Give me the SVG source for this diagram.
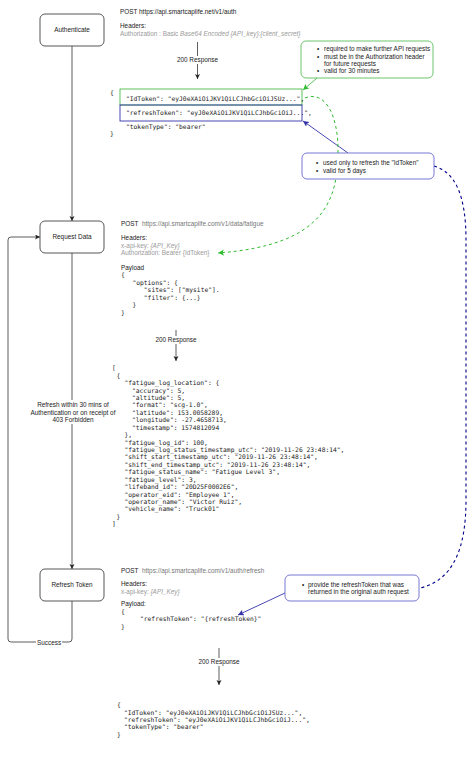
<svg xmlns="http://www.w3.org/2000/svg" width="474" height="757" viewBox="0 0 474 757">
<style>
.t{font-family:"Liberation Sans",Arial,sans-serif;font-size:6.4px;fill:#1a1a1a}
.g{fill:#9a9a9a}
.u{fill:#777}
.i{font-style:italic}
.m{font-family:"DejaVu Sans Mono","Liberation Mono",monospace;font-size:6.3px;fill:#1a1a1a}
.c{text-anchor:middle}
.node{fill:#fff;stroke:#444;stroke-width:0.9}
.ln{fill:none;stroke:#333;stroke-width:0.8}
.bg{fill:#fff}
</style>
<defs>
<marker id="ak" markerUnits="userSpaceOnUse" markerWidth="6" markerHeight="6" refX="5" refY="2.5" orient="auto"><path d="M0,0 L5,2.5 L0,5 L1.2,2.5 z" fill="#222"/></marker>
<marker id="ag" markerUnits="userSpaceOnUse" markerWidth="7" markerHeight="7" refX="6" refY="3" orient="auto"><path d="M0,0 L6,3 L0,6 L1.4,3 z" fill="#2ebd2e"/></marker>
<marker id="ab" markerUnits="userSpaceOnUse" markerWidth="7" markerHeight="7" refX="6" refY="3" orient="auto"><path d="M0,0 L6,3 L0,6 L1.4,3 z" fill="#3333aa"/></marker>
</defs>
<rect width="474" height="757" fill="#fff"/>

<g id="connectors">
<line class="ln" x1="72" y1="46" x2="72" y2="221" marker-end="url(#ak)"/>
<line class="ln" x1="72" y1="253" x2="72" y2="569" marker-end="url(#ak)"/>
<path class="ln" d="M72 601 L72 639 Q72 642 69 642 L11 642 Q8 642 8 639 L8 240 Q8 237 11 237 L40 237" marker-end="url(#ak)"/>
<line class="ln" x1="197.5" y1="42" x2="197.5" y2="79" marker-end="url(#ak)"/>
<line class="ln" x1="176" y1="330" x2="176" y2="361" marker-end="url(#ak)"/>
<line class="ln" x1="219" y1="648" x2="219" y2="685" marker-end="url(#ak)"/>
<line x1="317" y1="78" x2="303" y2="90" stroke="#4cbb4c" stroke-width="0.9" marker-end="url(#ag)"/>
<line x1="348" y1="153" x2="303" y2="121" stroke="#3333aa" stroke-width="0.9" marker-end="url(#ab)"/>
<line x1="285" y1="593" x2="238" y2="615" stroke="#3333aa" stroke-width="0.9" marker-end="url(#ab)"/>
<path d="M305 98 C325 90 338 115 338 150 C338 200 325 245 218 253" fill="none" stroke="#2ebd2e" stroke-width="1" stroke-dasharray="3 3" marker-end="url(#ag)"/>
<path d="M434 166 C455 172 466 195 466 240 L466 500 C466 545 455 580 420 588" fill="none" stroke="#000088" stroke-width="1.1" stroke-dasharray="3 3"/>
<rect class="bg" x="177" y="56" width="41" height="8"/>
<text class="t c" x="197.5" y="62.2">200 Response</text>
<rect class="bg" x="155" y="336" width="42" height="8"/>
<text class="t c" x="176" y="342.2">200 Response</text>
<rect class="bg" x="198" y="658" width="42" height="8"/>
<text class="t c" x="219" y="664.2">200 Response</text>
<rect class="bg" x="37" y="400" width="78" height="24"/>
<text class="t c" x="73" y="407.2">Refresh within 30 mins of</text>
<text class="t c" x="73" y="414.9">Authentication or on receipt of</text>
<text class="t c" x="73" y="422.2">403 Forbidden</text>
<rect class="bg" x="36" y="638" width="26" height="8"/>
<text class="t c" x="49" y="645.2">Success</text>
</g>

<g id="node-authenticate">
<rect class="node" x="40" y="14" width="64" height="32" rx="5"/>
<text class="t c" x="72" y="32.2">Authenticate</text>
</g>
<g id="node-request-data">
<rect class="node" x="40" y="221" width="64" height="32" rx="5"/>
<text class="t c" x="72" y="239.2">Request Data</text>
</g>
<g id="node-refresh-token">
<rect class="node" x="40" y="569" width="64" height="32" rx="5"/>
<text class="t c" x="72" y="587.2">Refresh Token</text>
</g>

<g id="auth-request">
<text class="t" x="120" y="14.2">POST https://api.smartcaplife.net/v1/auth</text>
<text class="t" x="120" y="28.2">Headers:</text>
<text class="t g" x="120" y="35.7">Authorization : Basic <tspan class="i">Base64 Encoded {API_key}:{client_secret}</tspan></text>
</g>

<g id="auth-response">
<text class="m" x="110" y="94.5">{</text>
<rect id="box-idtoken" x="120" y="89" width="182" height="16" fill="none" stroke="#4cbb4c" stroke-width="0.9"/>
<text class="m" x="126" y="100.6">"IdToken": "eyJ0eXAiOiJKV1QiLCJhbGciOiJSUz...",</text>
<rect id="box-refreshtoken" x="120" y="105" width="182" height="16" fill="none" stroke="#3333aa" stroke-width="0.9"/>
<text class="m" x="126" y="115.2">"refreshToken": "eyJ0eXAiOiJKV1QiLCJhbGciOiJ...",</text>
<text class="m" x="126" y="128.9">"tokenType": "bearer"</text>
<text class="m" x="110" y="136.2">}</text>
</g>

<g id="note-idtoken">
<rect x="301" y="41" width="132" height="37" rx="5" fill="#fff" stroke="#5cbf5c" stroke-width="0.9"/>
<text class="t" x="317" y="51.2">•</text><text class="t" x="324" y="51.2">required to make further API requests</text>
<text class="t" x="317" y="58.5">•</text><text class="t" x="324" y="58.5">must be in the Authorization header</text>
<text class="t" x="324" y="65.8">for future requests</text>
<text class="t" x="317" y="73.2">•</text><text class="t" x="324" y="73.2">valid for 30 minutes</text>
</g>

<g id="note-refreshtoken">
<rect x="302" y="153" width="132" height="26" rx="5" fill="#fff" stroke="#6a6ad0" stroke-width="0.9"/>
<text class="t" x="316" y="165.2">•</text><text class="t" x="323" y="165.2">used only to refresh the "IdToken"</text>
<text class="t" x="316" y="172.9">•</text><text class="t" x="323" y="172.9">valid for 5 days</text>
</g>

<g id="data-request">
<text class="t" x="121" y="226.2">POST</text>
<text class="t u" x="142" y="226.2">https://api.smartcaplife.com/v1/data/fatigue</text>
<text class="t" x="121" y="240.2">Headers:</text>
<text class="t g" x="121" y="247.7">x-api-key: <tspan class="i">{API_Key}</tspan></text>
<text class="t g" x="121" y="255.2">Authorization: Bearer {IdToken}</text>
<text class="t" x="121" y="269.7">Payload</text>
<text class="m" x="121" y="277.2">{</text>
<text class="m" x="132.4" y="284.7">"options": {</text>
<text class="m" x="143.8" y="292.2">"sites": ["mysite"].</text>
<text class="m" x="143.8" y="299.7">"filter": {...}</text>
<text class="m" x="132.4" y="307.2">}</text>
<text class="m" x="121" y="314.7">}</text>
</g>

<g id="data-response">
<text class="m" x="112" y="370.2">[</text>
<text class="m" x="116.5" y="377.6">{</text>
<text class="m" x="124.5" y="385.1">"fatigue_log_location": {</text>
<text class="m" x="132" y="392.5">"accuracy": 5,</text>
<text class="m" x="132" y="399.9">"altitude": 5,</text>
<text class="m" x="132" y="407.4">"format": "scg-1.0",</text>
<text class="m" x="132" y="414.8">"latitude": 153.0058289,</text>
<text class="m" x="132" y="422.2">"longitude": -27.4658713,</text>
<text class="m" x="132" y="429.6">"timestamp": 1574812094</text>
<text class="m" x="124.5" y="437.1">},</text>
<text class="m" x="124.5" y="444.5">"fatigue_log_id": 100,</text>
<text class="m" x="124.5" y="451.9">"fatigue_log_status_timestamp_utc": "2019-11-26 23:48:14",</text>
<text class="m" x="124.5" y="459.4">"shift_start_timestamp_utc": "2019-11-26 23:48:14",</text>
<text class="m" x="124.5" y="466.8">"shift_end_timestamp_utc": "2019-11-26 23:48:14",</text>
<text class="m" x="124.5" y="474.2">"fatigue_status_name": "Fatigue Level 3",</text>
<text class="m" x="124.5" y="481.7">"fatigue_level": 3,</text>
<text class="m" x="124.5" y="489.1">"lifeband_id": "20D25F0002E6",</text>
<text class="m" x="124.5" y="496.5">"operator_eid": "Employee 1",</text>
<text class="m" x="124.5" y="503.9">"operator_name": "Victor Ruiz",</text>
<text class="m" x="124.5" y="511.4">"vehicle_name": "Truck01"</text>
<text class="m" x="116.5" y="518.8">}</text>
<text class="m" x="112" y="526.2">]</text>
</g>

<g id="refresh-request">
<text class="t" x="121" y="573.2">POST</text>
<text class="t u" x="142" y="573.2">https://api.smartcaplife.com/v1/auth/refresh</text>
<text class="t" x="121" y="586.2">Headers:</text>
<text class="t g" x="121" y="593.7">x-api-key: <tspan class="i">{API_Key}</tspan></text>
<text class="t" x="121" y="606.2">Payload:</text>
<text class="m" x="121" y="613.7">{</text>
<text class="m" x="140" y="621.2">"refreshToken": "{refreshToken}"</text>
<text class="m" x="121" y="628.7">}</text>
</g>

<g id="note-provide">
<rect x="285" y="575" width="134" height="26" rx="5" fill="#fff" stroke="#6a6ad0" stroke-width="0.9"/>
<text class="t" x="302" y="586.5">•</text><text class="t" x="308" y="586.5">provide the refreshToken that was</text>
<text class="t" x="308" y="593.9">returned in the original auth request</text>
</g>

<g id="refresh-response">
<text class="m" x="117" y="707.2">{</text>
<text class="m" x="124" y="714.6">"IdToken": "eyJ0eXAiOiJKV1QiLCJhbGciOiJSUz...",</text>
<text class="m" x="124" y="722">"refreshToken": "eyJ0eXAiOiJKV1QiLCJhbGciOiJ...",</text>
<text class="m" x="124" y="729.4">"tokenType": "bearer"</text>
<text class="m" x="117" y="736.8">}</text>
</g>
</svg>
